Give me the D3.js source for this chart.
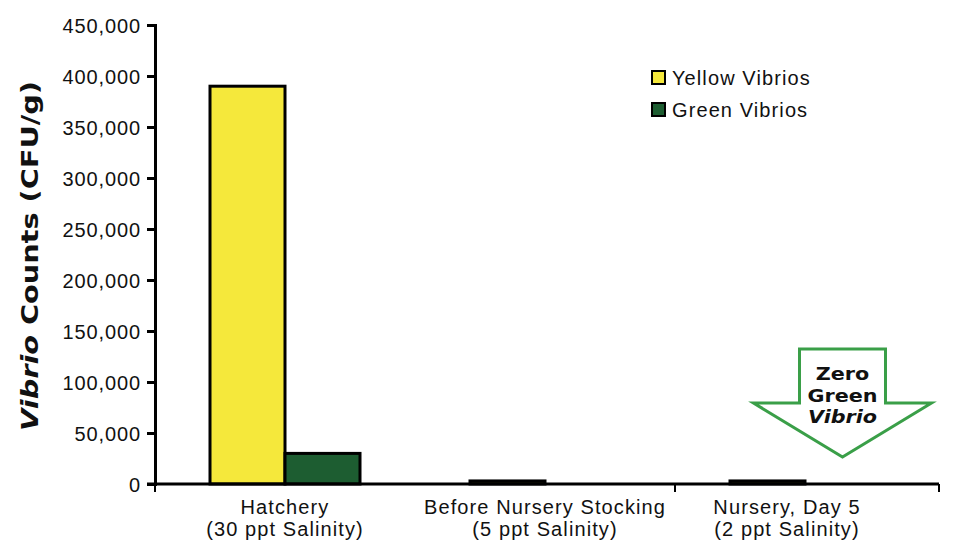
<!DOCTYPE html>
<html lang="en">

<head>
    <meta charset="UTF-8">
    <title>Vibrio Counts</title>
    <style>
        body {
            margin: 0;
            background: #fff;
        }

        .lbl {
            font-family: "Liberation Sans", Arial, sans-serif;
            font-size: 20px;
            letter-spacing: 1.1px;
            fill: #111;
        }
    </style>
</head>

<body>
    <script src="https://cdn.jsdelivr.net/npm/d3@7"></script>
    <script>

        // data
        let categories = ["Hatchery", "Before Nursery Stocking", "Nursery, Day 5"];
        let subLabels = ["(30 ppt Salinity)", "(5 ppt Salinity)", "(2 ppt Salinity)"];
        let series = ["Yellow Vibrios", "Green Vibrios"];
        let yellowVals = [390000, 3000, 3000];
        let greenVals = [30000, 0, 0];
        let yTicks = [0, 50000, 100000, 150000, 200000, 250000, 300000, 350000, 400000, 450000];
        let colors = ["#f5e83b", "#1d5d31"];

        // 1. svg
        let w = 960, h = 554;
        let m = { t: 25, b: 70, l: 155, r: 25 };

        let s = d3.select('body').append('svg')
            .attr('width', w)
            .attr('height', h);

        let x = d3.scaleBand().domain(categories).range([m.l, 935]);
        let bw = x.bandwidth();
        let groupW = 150;
        let x1 = d3.scaleBand().domain(series).range([(bw - groupW) / 2, (bw + groupW) / 2]);
        let y = d3.scaleLinear().domain([0, 450000]).range([484, m.t]);

        let fmt = d3.format(",");

        // 2. bars
        let rows = categories.map((c, i) => ({ cat: c, vals: [yellowVals[i], greenVals[i]] }));
        let bars = [];
        rows.forEach(r => r.vals.forEach((v, j) => bars.push({ cat: r.cat, s: series[j], v: v, c: colors[j] })));

        s.selectAll('.bar')
            .data(bars.filter(d => d.v > 0))
            .enter().append('rect')
            .attr('class', 'bar')
            .attr('x', d => x(d.cat) + x1(d.s))
            .attr('width', x1.bandwidth())
            .attr('y', d => y(d.v))
            .attr('height', d => y(0) - y(d.v))
            .attr('fill', d => d.c)
            .attr('stroke', '#000')
            .attr('stroke-width', 3);

        // 3. axes
        let ya = s.append('g')
            .attr('transform', `translate(${m.l},0)`)
            .call(d3.axisLeft(y).tickValues(yTicks).tickFormat(fmt).tickSize(8).tickPadding(6));
        ya.select('.domain').attr('stroke-width', 3).attr('stroke', '#000');
        ya.selectAll('.tick line').attr('stroke-width', 3);
        ya.selectAll('.tick text').attr('class', 'lbl').attr('dy', '0.36em').style('letter-spacing', '0.9px');

        // baseline
        s.append('line')
            .attr('x1', m.l - 8).attr('x2', x.range()[1] + 4)
            .attr('y1', y(0)).attr('y2', y(0))
            .attr('stroke', '#000').attr('stroke-width', 3);

        // category boundary ticks
        let bounds = [x.range()[0], x(categories[2]), x.range()[1] + 4];
        s.selectAll('.xt')
            .data(bounds)
            .enter().append('line')
            .attr('x1', d => d).attr('x2', d => d)
            .attr('y1', y(0)).attr('y2', y(0) + 8)
            .attr('stroke', '#000').attr('stroke-width', 2);

        // x labels
        let xl = s.selectAll('.xl')
            .data(categories)
            .enter().append('text')
            .attr('class', 'lbl')
            .attr('text-anchor', 'middle')
            .attr('transform', (d, i) => `translate(${x(d) + bw / 2 - (i === 2 ? 18 : 0)},514)`);
        xl.append('tspan').attr('x', 0).attr('y', 0).text(d => d);
        xl.append('tspan').attr('x', 0).attr('y', 22).text((d, i) => subLabels[i]);

        // y title (heavy, wide face)
        let yt = s.append('text')
            .attr('transform', 'translate(38,256) rotate(-90) scale(1.25,1)')
            .attr('text-anchor', 'middle')
            .style('font-family', '"DejaVu Sans", Verdana, sans-serif')
            .style('font-weight', 'bold')
            .style('font-size', '23px')
            .style('fill', '#111');
        yt.append('tspan').style('font-style', 'italic').text('Vibrio');
        yt.append('tspan').text(' Counts (CFU/g)');

        // 4. legend
        let lg = s.selectAll('.leg')
            .data(series)
            .enter().append('g')
            .attr('transform', (d, i) => `translate(652,${71 + i * 32})`);
        lg.append('rect')
            .attr('width', 13).attr('height', 13)
            .attr('fill', (d, i) => colors[i])
            .attr('stroke', '#000').attr('stroke-width', 2);
        lg.append('text')
            .attr('class', 'lbl')
            .attr('x', 20).attr('y', 7)
            .attr('dy', '0.36em')
            .text(d => d);

        // 5. "Zero Green Vibrio" arrow over nursery green bar
        let ax = x(categories[2]) + x1(series[1]) + x1.bandwidth() / 2;
        let tip = y(0) - 27;
        let arrow = [
            [ax - 43, tip - 108], [ax + 43, tip - 108], [ax + 43, tip - 54], [ax + 89, tip - 54],
            [ax, tip], [ax - 89, tip - 54], [ax - 43, tip - 54]
        ];
        s.append('path')
            .attr('d', d3.line()(arrow) + 'Z')
            .attr('fill', '#fff')
            .attr('stroke', '#3a9f48')
            .attr('stroke-width', 3);

        let at = s.append('text')
            .attr('transform', `translate(${ax},0) scale(1.15,1)`)
            .attr('text-anchor', 'middle')
            .style('font-family', '"DejaVu Sans", Verdana, sans-serif')
            .style('font-weight', 'bold')
            .style('font-size', '18px')
            .style('fill', '#111');
        at.append('tspan').attr('x', 0).attr('y', tip - 77).text('Zero');
        at.append('tspan').attr('x', 0).attr('y', tip - 55).text('Green');
        at.append('tspan').attr('x', 0).attr('y', tip - 34).style('font-style', 'italic').text('Vibrio');
    </script>
</body>

</html>
